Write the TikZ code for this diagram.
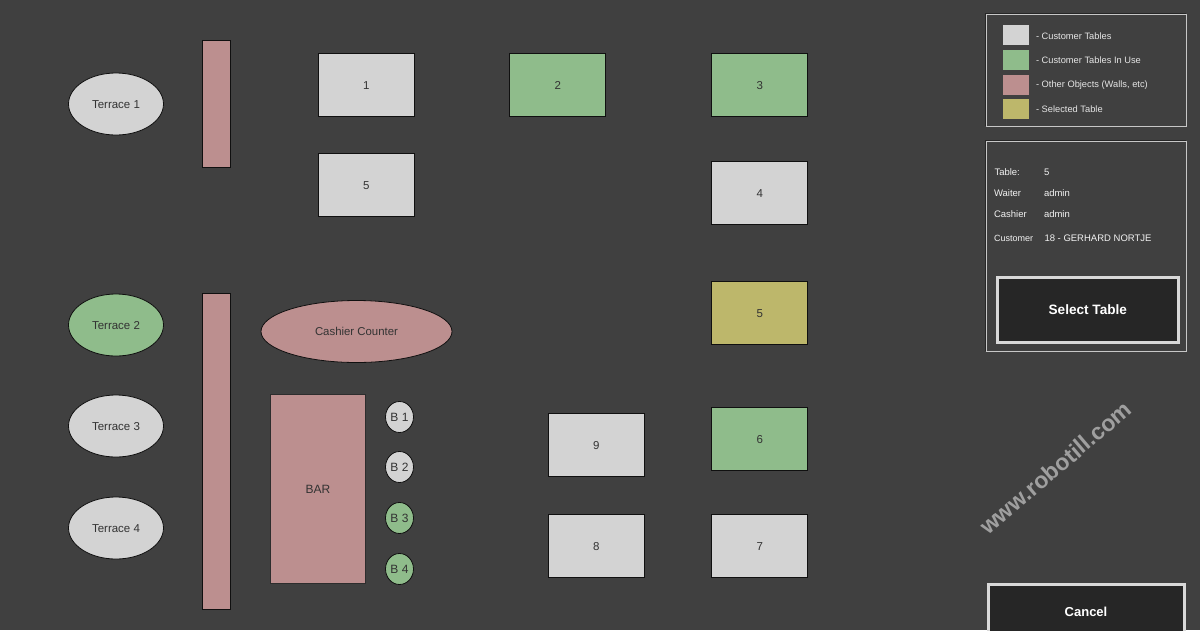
\documentclass[tikz,border=0pt]{standalone}
\usepackage{fontspec}
\setmainfont{Liberation Sans}
\usetikzlibrary{shapes.geometric}
\definecolor{bgc}{HTML}{404040}
\definecolor{tbl}{HTML}{D3D3D3}
\definecolor{used}{HTML}{8FBC8B}
\definecolor{wall}{HTML}{BC8F8F}
\definecolor{sel}{HTML}{BDB76B}
\definecolor{btn}{HTML}{262626}
\definecolor{lbl}{HTML}{333333}
\definecolor{edge}{HTML}{101010}
\tikzset{
 x=1pt,y=-1pt,
 every node/.style={font=\fontsize{11.5}{13}\selectfont,text=lbl,inner sep=0pt,outer sep=0pt},
 tablebox/.style={rectangle,draw=edge,line width=1pt,minimum width=96pt,minimum height=63pt,text height=9.4pt,text depth=0pt},
 oval/.style={ellipse,draw=edge,line width=.8pt,minimum width=95pt,minimum height=62pt,text height=9.8pt,text depth=0pt},
 stool/.style={ellipse,draw=edge,line width=.8pt,minimum width=28pt,minimum height=31pt,text height=9.8pt,text depth=0pt,font=\fontsize{12}{14}\selectfont},
 wallbox/.style={rectangle,draw=edge,line width=1pt,fill=wall,minimum width=27.5pt},
 swatch/.style={rectangle,minimum width=26pt,minimum height=20pt},
 legendtext/.style={anchor=west,font=\fontsize{9.3}{12}\selectfont,text=white!90!black},
 infotext/.style={anchor=west,font=\fontsize{9.5}{12}\selectfont,text=white!95!black},
 panel/.style={rectangle,draw=white!78!black,line width=1pt},
 paneldark/.style={draw=black!85,line width=.8pt},
 bigbtn/.style={rectangle,draw=white!85!black,fill=btn,line width=3pt,text=white,font=\bfseries\fontsize{13}{15}\selectfont},
}
\begin{document}
\begin{tikzpicture}
\useasboundingbox (0,0) rectangle (1200,630);
\fill[bgc] (0,0) rectangle (1200,630);
% walls
\node[wallbox,minimum height=127pt] (wallA) at (216.3,104) {};
\node[wallbox,minimum height=316pt] (wallB) at (216.3,451.5) {};
% tables
\node[tablebox,fill=tbl] (t1) at (366.4,84.8) {1};
\node[tablebox,fill=tbl] (t5a) at (366.4,184.8) {5};
\node[tablebox,fill=used] (t2) at (557.9,84.8) {2};
\node[tablebox,fill=used] (t3) at (759.9,84.8) {3};
\node[tablebox,fill=tbl] (t4) at (759.9,192.8) {4};
\node[tablebox,fill=sel] (t5b) at (759.9,312.8) {5};
\node[tablebox,fill=used] (t6) at (759.9,438.8) {6};
\node[tablebox,fill=tbl] (t7) at (759.9,545.8) {7};
\node[tablebox,fill=tbl] (t8) at (596.4,545.8) {8};
\node[tablebox,fill=tbl] (t9) at (596.4,444.8) {9};
% terraces
\node[oval,fill=tbl] (ter1) at (116,104) {Terrace 1};
\node[oval,fill=used] (ter2) at (116,325) {Terrace 2};
\node[oval,fill=tbl] (ter3) at (116,426) {Terrace 3};
\node[oval,fill=tbl] (ter4) at (116,528) {Terrace 4};
% counter and bar
\node[ellipse,draw=edge,line width=.8pt,fill=wall,minimum width=191pt,minimum height=62pt,font=\fontsize{11.4}{14}\selectfont] (cashier) at (356.5,331.5) {Cashier Counter};
\node[rectangle,draw=bgc!70!black,line width=1pt,fill=wall,minimum width=95pt,minimum height=189pt,font=\fontsize{12}{14}\selectfont] (bar) at (318,489) {BAR};
% stools
\node[stool,fill=tbl] (b1) at (399.5,417) {B 1};
\node[stool,fill=tbl] (b2) at (399.5,467) {B 2};
\node[stool,fill=used] (b3) at (399.5,518) {B 3};
\node[stool,fill=used] (b4) at (399.5,569) {B 4};
% legend
\node[panel,minimum width=200pt,minimum height=112pt] (legend) at (1086,70) {};
\draw[paneldark] ([xshift=-.9pt]legend.south west) |- ([yshift=.9pt]legend.north east);
\node[swatch,fill=tbl] (s1) at (1016,35) {};
\node[swatch,fill=used] (s2) at (1016,60) {};
\node[swatch,fill=wall] (s3) at (1016,84.5) {};
\node[swatch,fill=sel] (s4) at (1016,109) {};
\node[legendtext] (l1) at (1036,36) {- Customer Tables};
\node[legendtext] (l2) at (1036,60.5) {- Customer Tables In Use};
\node[legendtext] (l3) at (1036,85) {- Other Objects (Walls, etc)};
\node[legendtext] (l4) at (1036,109.5) {- Selected Table};
% info panel
\node[panel,minimum width=200pt,minimum height=210pt] (info) at (1086,246) {};
\draw[paneldark] ([xshift=-.9pt]info.south west) |- ([yshift=.9pt]info.north east);
\node[infotext] (k1) at (994.5,172) {Table:};
\node[infotext] (v1) at (1044,172) {5};
\node[infotext] (k2) at (994,193) {Waiter};
\node[infotext] (v2) at (1044,193) {admin};
\node[infotext] (k3) at (994,214) {Cashier};
\node[infotext,font=\fontsize{9}{12}\selectfont] (k4) at (994,238.5) {Customer};
\node[infotext] (v4) at (1044.5,238.5) {18 - GERHARD NORTJE};
\node[infotext] (v3) at (1044,214) {admin};
\node[bigbtn,minimum width=181.5pt,minimum height=64.5pt,font=\bfseries\fontsize{13.6}{15}\selectfont] (select) at (1087.8,310) {Select Table};
% cancel
\node[bigbtn,minimum width=196pt,minimum height=56pt] (cancel) at (1086,612) {Cancel};
% watermark
\node[rotate=40.5,text=white!50!bgc,font=\bfseries\fontsize{23}{26}\selectfont] (wm) at (1055.5,467.5) {www.robotill.com};
\end{tikzpicture}
\end{document}
